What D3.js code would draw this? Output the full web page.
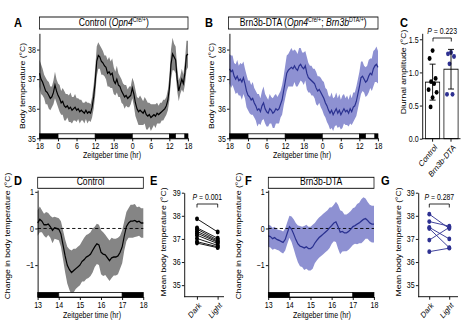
<!DOCTYPE html>
<html>
<head>
<meta charset="utf-8">
<script src="https://cdn.jsdelivr.net/npm/d3@7"></script>
<style>
  body { margin: 0; background: #fff; }
  svg text { font-family: "Liberation Sans", Arial, sans-serif; fill: #000; }
</style>
</head>
<body>
<svg id="fig" width="474" height="333"></svg>
<script>
// ---------------- data ----------------
// 48 h recordings, sampled every 0.5 h starting at ZT18
var ctrlMean48 = [
  37.2,37.0,36.9,36.75,36.6,36.55,36.45,36.35,36.4,36.55,36.8,36.6,
  36.45,36.35,36.2,36.25,36.1,36.05,36.1,36.0,36.05,35.95,36.0,36.05,
  35.95,36.0,35.9,35.95,35.9,35.85,35.95,35.85,35.9,35.85,36.05,36.4,
  36.9,37.6,37.8,37.75,37.6,37.55,37.45,37.4,37.2,37.25,37.15,37.2,
  36.95,36.85,37.0,36.8,36.75,36.6,36.5,36.4,36.45,36.35,36.4,36.45,
  36.7,36.5,36.2,36.0,35.9,35.95,35.9,35.85,35.95,35.8,35.75,35.8,
  35.7,35.75,35.8,35.75,35.85,35.8,35.85,35.9,35.95,36.0,36.1,36.3,
  36.7,37.5,37.85,37.75,37.65,37.0,36.6,36.8,37.0,36.85,37.2,37.8,37.85];
var ctrlSem48 = [
  0.45,0.5,0.45,0.4,0.45,0.4,0.45,0.4,0.35,0.4,0.45,0.4,
  0.4,0.45,0.4,0.45,0.5,0.45,0.4,0.45,0.5,0.45,0.4,0.45,
  0.4,0.35,0.4,0.35,0.3,0.35,0.3,0.35,0.3,0.3,0.35,0.4,
  0.45,0.5,0.45,0.4,0.45,0.4,0.35,0.4,0.45,0.5,0.45,0.5,
  0.45,0.4,0.45,0.4,0.35,0.4,0.35,0.4,0.35,0.3,0.35,0.3,
  0.35,0.4,0.45,0.4,0.45,0.5,0.45,0.4,0.45,0.5,0.45,0.4,
  0.45,0.4,0.35,0.4,0.35,0.3,0.35,0.3,0.35,0.3,0.3,0.35,
  0.4,0.5,0.55,0.45,0.45,0.4,0.35,0.3,0.35,0.3,0.4,0.5,0.45];
var dtaMean48 = [
  37.35,37.25,37.3,37.1,37.0,37.1,36.95,37.0,36.9,37.05,36.85,36.6,
  36.45,36.4,36.3,36.35,36.2,36.1,35.95,36.0,35.9,36.1,36.2,36.0,
  35.9,35.85,36.0,35.95,35.85,35.9,36.0,35.95,36.0,36.15,36.3,36.6,
  36.9,37.2,37.3,37.35,37.4,37.35,37.45,37.35,37.3,37.45,37.5,37.4,
  37.35,37.45,37.2,37.05,37.0,36.95,36.9,36.85,36.7,36.6,36.65,36.55,
  36.45,36.35,36.2,36.1,35.95,35.85,35.95,35.8,35.9,36.0,35.85,35.95,
  35.8,35.9,36.0,35.9,35.95,35.85,36.0,35.9,36.05,36.1,36.25,36.5,
  36.75,37.05,37.1,37.0,36.9,36.95,37.1,37.2,37.15,37.35,37.45,37.5,37.4];
var dtaSem48 = [
  0.5,0.55,0.5,0.45,0.5,0.55,0.5,0.55,0.6,0.55,0.5,0.55,
  0.5,0.55,0.5,0.55,0.5,0.5,0.55,0.5,0.45,0.5,0.55,0.5,
  0.5,0.45,0.5,0.45,0.5,0.55,0.5,0.45,0.5,0.45,0.5,0.5,
  0.55,0.6,0.55,0.6,0.65,0.6,0.55,0.6,0.55,0.6,0.55,0.5,
  0.55,0.5,0.55,0.5,0.45,0.5,0.45,0.5,0.55,0.5,0.45,0.5,
  0.5,0.55,0.5,0.55,0.5,0.55,0.6,0.55,0.5,0.55,0.5,0.55,
  0.5,0.55,0.5,0.45,0.5,0.45,0.5,0.45,0.5,0.45,0.5,0.5,
  0.5,0.55,0.5,0.45,0.5,0.5,0.55,0.5,0.55,0.6,0.55,0.6,0.55];

// ZT13-18 light pulse, every 0.1 h
var ctrlPulse = [
  0.15,0.25,0.2,0.1,0.1,0.12,0.05,-0.05,0.02,0.0,
  -0.02,-0.15,-0.45,-0.75,-1.0,-1.12,-1.2,-1.15,-1.1,-1.05,
  -1.0,-0.9,-0.85,-0.78,-0.75,-0.7,-0.6,-0.5,-0.42,-0.45,
  -0.65,-0.7,-0.72,-0.8,-0.88,-0.8,-0.78,-0.78,-0.75,-0.65,
  -0.5,-0.2,0.05,0.15,0.2,0.2,0.22,0.18,0.2,0.15,0.15];
var ctrlPulseSem = [
  0.35,0.35,0.3,0.3,0.35,0.3,0.3,0.35,0.3,0.3,
  0.3,0.35,0.4,0.45,0.5,0.55,0.6,0.6,0.55,0.55,
  0.55,0.55,0.6,0.6,0.6,0.6,0.6,0.55,0.55,0.55,
  0.6,0.6,0.55,0.55,0.55,0.55,0.5,0.5,0.5,0.45,
  0.45,0.4,0.4,0.4,0.45,0.45,0.45,0.4,0.4,0.4,0.4];
var dtaPulse = [
  -0.2,-0.22,-0.28,-0.25,-0.3,-0.32,-0.35,-0.38,-0.3,-0.12,
  0.05,-0.02,-0.15,-0.3,-0.42,-0.48,-0.5,-0.53,-0.5,-0.55,
  -0.55,-0.5,-0.4,-0.32,-0.25,-0.2,-0.15,-0.1,-0.05,0.02,
  0.08,0.15,0.18,0.05,-0.1,-0.08,-0.12,-0.12,-0.08,-0.02,
  0.05,0.08,0.12,0.15,0.2,0.25,0.27,0.22,0.15,0.12,0.12];
var dtaPulseSem = [
  0.3,0.3,0.3,0.3,0.28,0.28,0.3,0.3,0.3,0.3,
  0.3,0.35,0.4,0.45,0.5,0.55,0.55,0.6,0.6,0.6,
  0.6,0.6,0.55,0.55,0.55,0.55,0.55,0.55,0.55,0.55,
  0.5,0.5,0.55,0.6,0.6,0.55,0.5,0.5,0.5,0.5,
  0.5,0.5,0.55,0.55,0.6,0.6,0.55,0.5,0.5,0.5,0.5];

// light/dark schedule (1 = dark)
var phaseStart48 = [18, 24, 36, 48, 60, 62, 65];
var phaseDark48 = [1, 0, 1, 0, 1, 0, 1];
var phaseEnd48 = 66;
var phaseStartPulse = [13, 14, 17];
var phaseDarkPulse = [1, 0, 1];
var phaseEndPulse = 18;

// diurnal amplitude per mouse
var groups = ['Control', 'Brn3b-DTA'];
var ampCtrl = [1.33, 1.21, 0.91, 0.86, 0.83, 0.74, 0.70, 0.62, 0.48];
var ampDta = [1.30, 1.28, 1.24, 1.13, 0.67, 0.67];
var pAmp = '0.223';

// mean body temperature, dark vs light
var conditions = ['Dark', 'Light'];
var ctrlDark = [37.87, 37.48, 37.42, 37.33, 37.25, 37.16, 37.02, 36.88, 36.82];
var ctrlLight = [37.3, 37.03, 36.95, 36.9, 36.86, 36.8, 36.72, 36.66, 36.62];
var dtaDark = [38.07, 37.75, 37.5, 37.45, 36.95, 36.45];
var dtaLight = [37.45, 37.55, 37.0, 36.62, 37.5, 36.6];
var pCtrl = '0.001';
var pDta = '0.287';

// ---------------- drawing ----------------
var sx = 0.82; // figure is slightly condensed horizontally
function px(v) { return v / sx; }

var blueLine = '#2a3190', blueBand = '#8e91d2', blueDot = '#2e3192';
var greyBand = '#858585';

var svg = d3.select('#fig');
var root = svg.append('g').attr('transform', 'scale(' + sx + ',1)');

function styleAxis(sel) {
  sel.attr('font-size', 8.6).attr('font-family', '"Liberation Sans", Arial, sans-serif');
  sel.selectAll('path,line').attr('stroke', '#000');
}

function letter(x, y, t) {
  root.append('text').attr('x', px(x)).attr('y', y)
    .attr('font-size', 13.5).attr('font-weight', 'bold').text(t);
}

function yTitle(x, yc, t) {
  root.append('text')
    .attr('transform', 'translate(' + px(x) + ',' + yc + ') rotate(-90)')
    .attr('text-anchor', 'middle').attr('font-size', 8.6).text(t);
}

function xTitle(xc, y, t) {
  root.append('text').attr('x', px(xc)).attr('y', y)
    .attr('text-anchor', 'middle').attr('font-size', 8.6).text(t);
}

// boxed title, parts = [[text, style], ...]
function titleBox(x0, x1, y0, y1, parts) {
  root.append('rect').attr('x', px(x0)).attr('y', y0)
    .attr('width', px(x1) - px(x0)).attr('height', y1 - y0)
    .attr('fill', '#fff').attr('stroke', '#000').attr('stroke-width', 0.9);
  var t = root.append('text').attr('x', px((x0 + x1) / 2)).attr('y', y1 - 3)
    .attr('text-anchor', 'middle').attr('font-size', 10.5);
  parts.forEach(function(p) {
    var s = t.append('tspan').text(p[0]);
    if (p[1] === 'i') s.attr('font-style', 'italic');
    if (p[1] === 'sup') s.attr('font-size', 6.5).attr('dy', -3.5);
    if (p[1] === 'after') s.attr('dy', 3.5);
  });
}

function tracePanel(c) {
  var x = d3.scaleLinear().domain(c.xDomain).range([px(c.left), px(c.right)]);
  var y = d3.scaleLinear().domain(c.yDomain).range([c.bottom, c.top]);
  var g = root.append('g');
  var pts = c.mean.map(function(m, i) { return { t: c.t0 + i * c.dt, m: m, s: c.sem[i] }; });

  g.append('path').datum(pts)
    .attr('d', d3.area().x(function(d) { return x(d.t); })
      .y0(function(d) { return y(d.m - d.s); })
      .y1(function(d) { return y(d.m + d.s); }))
    .attr('fill', c.band);

  if (c.zero) {
    g.append('line').attr('x1', px(c.left)).attr('x2', px(c.right))
      .attr('y1', y(0)).attr('y2', y(0))
      .attr('stroke', '#000').attr('stroke-width', 1).attr('stroke-dasharray', '4,3');
  }

  g.append('path').datum(pts)
    .attr('d', d3.line().x(function(d) { return x(d.t); }).y(function(d) { return y(d.m); }))
    .attr('fill', 'none').attr('stroke', c.line).attr('stroke-width', 1.4);

  // light/dark bar on the x axis
  var segs = c.phaseStart.map(function(s, i) {
    return { s: s, e: i < c.phaseStart.length - 1 ? c.phaseStart[i + 1] : c.phaseEnd, dark: c.phaseDark[i] };
  });
  g.selectAll('rect.phase').data(segs).enter().append('rect')
    .attr('x', function(d) { return x(d.s); })
    .attr('width', function(d) { return x(d.e) - x(d.s); })
    .attr('y', c.bottom - 4.5).attr('height', 4.5)
    .attr('fill', function(d) { return d.dark ? '#000' : '#fff'; })
    .attr('stroke', '#000').attr('stroke-width', 0.8);

  g.append('g').attr('transform', 'translate(0,' + c.bottom + ')')
    .call(d3.axisBottom(x).tickValues(c.xTicks).tickFormat(c.xFormat)
      .tickSize(3).tickSizeOuter(0).tickPadding(1.5))
    .call(styleAxis);
  g.append('g').attr('transform', 'translate(' + px(c.left) + ',0)')
    .call(d3.axisLeft(y).tickValues(c.yTicks).tickFormat(d3.format('d'))
      .tickSize(3).tickSizeOuter(0).tickPadding(1.5))
    .call(styleAxis);
}

function bracket(x0, x1, yb, p) {
  root.append('path')
    .attr('d', 'M' + px(x0) + ',' + (yb + 3.5) + 'V' + yb + 'H' + px(x1) + 'V' + (yb + 3.5))
    .attr('fill', 'none').attr('stroke', '#000').attr('stroke-width', 0.9);
  var t = root.append('text').attr('x', px((x0 + x1) / 2)).attr('y', yb - 3.5)
    .attr('text-anchor', 'middle').attr('font-size', 8.4);
  t.append('tspan').attr('font-style', 'italic').text('P');
  t.append('tspan').text(' = ' + p);
}

function pairPanel(c) {
  var y = d3.scaleLinear().domain([34.5, 39]).range([296.7, 192.7]);
  var x = d3.scalePoint().domain(conditions).range([px(c.xDark), px(c.xLight)]);
  var g = root.append('g');
  var pairs = c.dark.map(function(d, i) { return [d, c.light[i]]; });

  g.selectAll('line.pair').data(pairs).enter().append('line')
    .attr('x1', x('Dark')).attr('x2', x('Light'))
    .attr('y1', function(d) { return y(d[0]); })
    .attr('y2', function(d) { return y(d[1]); })
    .attr('stroke', c.color).attr('stroke-width', 1);
  conditions.forEach(function(cond, k) {
    g.selectAll('circle.c' + k).data(pairs).enter().append('circle')
      .attr('cx', x(cond)).attr('cy', function(d) { return y(d[k]); })
      .attr('r', 2.4).attr('fill', c.color);
  });

  g.append('g').attr('transform', 'translate(' + px(c.axisX) + ',0)')
    .call(d3.axisLeft(y).tickValues([35, 36, 37, 38, 39]).tickFormat(d3.format('d'))
      .tickSize(3).tickSizeOuter(0).tickPadding(1.5))
    .call(styleAxis);
  var xa = g.append('g').attr('transform', 'translate(0,296.7)')
    .call(d3.axisBottom(x).tickSize(3).tickSizeOuter(0))
    .call(styleAxis);
  xa.select('.domain').remove();
  xa.selectAll('text').attr('text-anchor', 'end').attr('x', 0).attr('y', 0)
    .attr('dy', '0.35em').attr('transform', 'translate(3,7) rotate(-45)');
  g.append('line').attr('x1', px(c.axisX)).attr('x2', px(c.axisEnd))
    .attr('y1', 296.7).attr('y2', 296.7).attr('stroke', '#000');

  bracket(c.xDark, c.xLight, 204, c.p);
}

// ---- A ----
tracePanel({
  left: 39.5, right: 188, top: 33.3, bottom: 138.3,
  xDomain: [18, 66], yDomain: [35, 38.55],
  t0: 18, dt: 0.5, mean: ctrlMean48, sem: ctrlSem48,
  band: greyBand, line: '#000',
  phaseStart: phaseStart48, phaseDark: phaseDark48, phaseEnd: phaseEnd48,
  xTicks: d3.range(18, 67, 6), xFormat: function(d) { return d % 24; },
  yTicks: [35, 36, 37, 38]
});
titleBox(39.5, 188, 17, 29, [['Control ('], ['Opn4', 'i'], ['Cre/+', 'sup'], [')', 'after']]);
letter(14, 27, 'A');
yTitle(24.5, 86, 'Body temperature (°C)');
xTitle(112, 158, 'Zeitgeber time (hr)');

// ---- B ----
tracePanel({
  left: 229.5, right: 378, top: 33.3, bottom: 138.3,
  xDomain: [18, 66], yDomain: [35, 38.55],
  t0: 18, dt: 0.5, mean: dtaMean48, sem: dtaSem48,
  band: blueBand, line: blueLine,
  phaseStart: phaseStart48, phaseDark: phaseDark48, phaseEnd: phaseEnd48,
  xTicks: d3.range(18, 67, 6), xFormat: function(d) { return d % 24; },
  yTicks: [35, 36, 37, 38]
});
titleBox(228.5, 378, 17, 29, [['Brn3b-DTA ('], ['Opn4', 'i'], ['Cre/+', 'sup'], ['; ', 'after'],
  ['Brn3b', 'i'], ['DTA/+', 'sup'], [')', 'after']]);
letter(205, 27, 'B');
yTitle(214.5, 86, 'Body temperature (°C)');
xTitle(302, 158, 'Zeitgeber time (hr)');

// ---- C ----
(function() {
  var y = d3.scaleLinear().domain([0, 1.59]).range([138.7, 33.3]);
  var x = d3.scaleBand().domain(groups).range([px(423.3), px(460.3)])
    .paddingInner(0.23).paddingOuter(0.12);
  var sets = [
    { name: groups[0], vals: ampCtrl, color: '#000' },
    { name: groups[1], vals: ampDta, color: blueDot }
  ];
  var g = root.append('g');
  var jitter = [0, -3, 3, -1.5, 1.5, -4, 4, 0, -2];
  sets.forEach(function(s) {
    var m = d3.mean(s.vals), sd = d3.deviation(s.vals);
    var cx = x(s.name) + x.bandwidth() / 2;
    g.append('rect').attr('x', x(s.name)).attr('width', x.bandwidth())
      .attr('y', y(m)).attr('height', y(0) - y(m))
      .attr('fill', '#fff').attr('stroke', '#000').attr('stroke-width', 0.9);
    g.selectAll(null).data(s.vals).enter().append('circle')
      .attr('cx', function(d, i) { return cx + px(jitter[i % jitter.length]); })
      .attr('cy', function(d) { return y(d); })
      .attr('r', 2.4).attr('fill', s.color);
    g.append('line').attr('x1', cx).attr('x2', cx)
      .attr('y1', y(m - sd)).attr('y2', y(m + sd)).attr('stroke', '#000').attr('stroke-width', 1);
    [m - sd, m + sd].forEach(function(v) {
      g.append('line').attr('x1', cx - px(3)).attr('x2', cx + px(3))
        .attr('y1', y(v)).attr('y2', y(v)).attr('stroke', '#000').attr('stroke-width', 1);
    });
  });
  g.append('g').attr('transform', 'translate(' + px(422.3) + ',0)')
    .call(d3.axisLeft(y).tickValues([0, 0.5, 1, 1.5]).tickFormat(d3.format('.1f'))
      .tickSize(3).tickSizeOuter(0).tickPadding(1.5))
    .call(styleAxis);
  var xa = g.append('g').attr('transform', 'translate(0,138.7)')
    .call(d3.axisBottom(x).tickSize(3).tickSizeOuter(0))
    .call(styleAxis);
  xa.select('.domain').remove();
  xa.selectAll('text').attr('text-anchor', 'end').attr('x', 0).attr('y', 0)
    .attr('dy', '0.35em').attr('transform', 'translate(4,7) rotate(-45)');
  g.append('line').attr('x1', px(422.3)).attr('x2', px(460.5))
    .attr('y1', 138.7).attr('y2', 138.7).attr('stroke', '#000');
  bracket(433, 451.3, 38, pAmp);
})();
letter(400, 27, 'C');
yTitle(406, 72, 'Diurnal amplitude (°C)');

// ---- D ----
tracePanel({
  left: 37.7, right: 143.3, top: 190, bottom: 297,
  xDomain: [13, 18], yDomain: [-1.87, 1.05],
  t0: 13, dt: 0.1, mean: ctrlPulse, sem: ctrlPulseSem,
  band: greyBand, line: '#000', zero: true,
  phaseStart: phaseStartPulse, phaseDark: phaseDarkPulse, phaseEnd: phaseEndPulse,
  xTicks: d3.range(13, 19), xFormat: d3.format('d'),
  yTicks: [-1, 0, 1]
});
titleBox(37.7, 143.3, 177.3, 188.3, [['Control']]);
letter(14, 185, 'D');
yTitle(10, 236, 'Change in body temperature (°C)');
xTitle(92, 318, 'Zeitgeber time (hr)');

// ---- E ----
pairPanel({ axisX: 184.3, axisEnd: 224, xDark: 197, xLight: 217.7,
  dark: ctrlDark, light: ctrlLight, color: '#000', p: pCtrl });
letter(150, 185, 'E');
yTitle(166, 242, 'Mean body temperature (°C)');

// ---- F ----
tracePanel({
  left: 268.3, right: 374, top: 190, bottom: 297,
  xDomain: [13, 18], yDomain: [-1.87, 1.05],
  t0: 13, dt: 0.1, mean: dtaPulse, sem: dtaPulseSem,
  band: blueBand, line: blueLine, zero: true,
  phaseStart: phaseStartPulse, phaseDark: phaseDarkPulse, phaseEnd: phaseEndPulse,
  xTicks: d3.range(13, 19), xFormat: d3.format('d'),
  yTicks: [-1, 0, 1]
});
titleBox(268.3, 374, 177.3, 188.3, [['Brn3b-DTA']]);
letter(245, 185, 'F');
yTitle(240.5, 236, 'Change in body temperature (°C)');
xTitle(322, 318, 'Zeitgeber time (hr)');

// ---- G ----
pairPanel({ axisX: 418.3, axisEnd: 458, xDark: 429.3, xLight: 449.3,
  dark: dtaDark, light: dtaLight, color: blueDot, p: pDta });
letter(381, 185, 'G');
yTitle(401, 242, 'Mean body temperature (°C)');
</script>
</body>
</html>
